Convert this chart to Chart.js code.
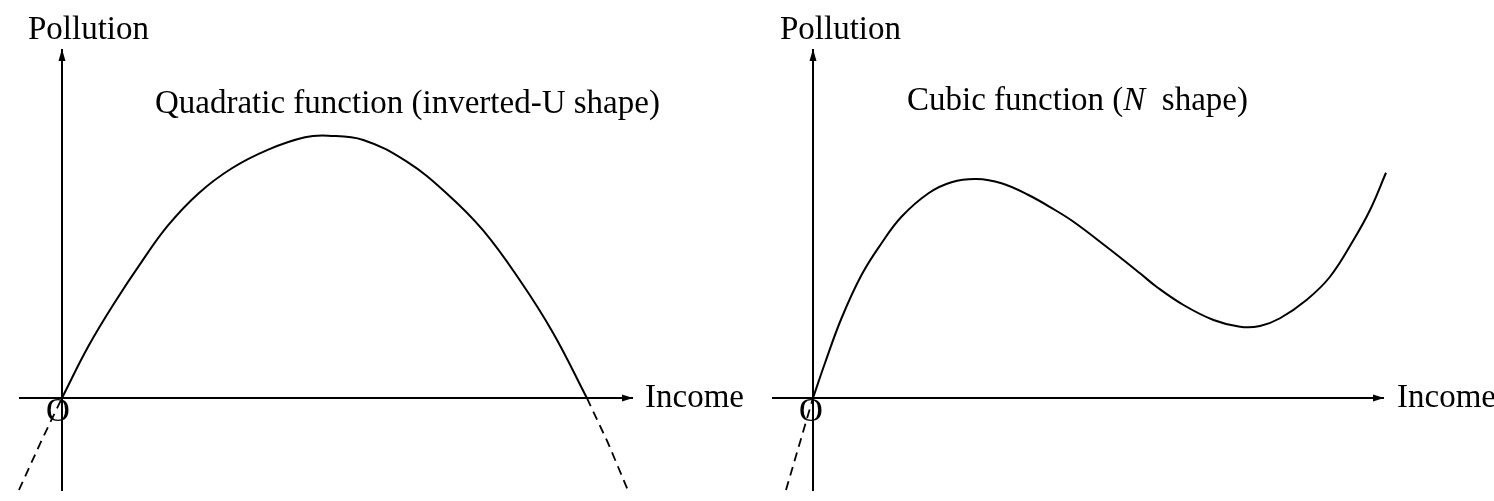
<!DOCTYPE html>
<html>
<head>
<meta charset="utf-8">
<script src="https://cdn.jsdelivr.net/npm/chart.js@4.4.1/dist/chart.umd.min.js"></script>
<style>
  html, body { margin: 0; padding: 0; background: #fff; }
  #wrap { position: relative; width: 1494px; height: 501px; overflow: hidden; }
  canvas { position: absolute; top: 0; }
  #left { left: 0; }
  #right { left: 760px; }
</style>
</head>
<body>
<div id="wrap">
  <canvas id="left" width="760" height="501"></canvas>
  <canvas id="right" width="734" height="501"></canvas>
</div>
<script>
// quadratic panel (inverted-U)
const quadIncome    = [0, 0.50, 1.01, 1.52, 2.02, 2.60, 3.23, 3.93, 4.63, 5.07, 5.74, 6.57, 7.33, 8.02, 8.72, 9.36, 10];
const quadPollution = [0, 1.96, 3.66, 5.20, 6.58, 7.80, 8.75, 9.47, 9.94, 10.0, 9.84, 9.01, 7.80, 6.40, 4.50, 2.47, 0];
const quadDashLeftX  = [-0.82, -0.41, 0];
const quadDashLeftY  = [-3.51, -1.71, 0];
const quadDashRightX = [10, 10.4, 10.78];
const quadDashRightY = [0, -1.7, -3.51];

// cubic panel (N shape)
const cubIncome    = [0, 0.24, 0.57, 0.97, 1.37, 1.77, 2.31, 2.77, 3.27, 3.77, 4.31, 4.84, 5.21, 5.87, 6.54, 6.87, 7.41, 8.01, 8.54, 8.94, 9.34, 9.87, 10.34, 10.81, 11.14, 11.46];
const cubPollution = [0, 1.40, 3.19, 4.92, 6.19, 7.25, 8.19, 8.63, 8.76, 8.59, 8.12, 7.52, 7.05, 6.05, 4.99, 4.45, 3.72, 3.12, 2.85, 2.88, 3.19, 3.92, 4.85, 6.32, 7.52, 9.01];
const cubDashX = [-0.54, -0.27, 0];
const cubDashY = [-3.68, -1.84, 0];

const FONT = '"Liberation Serif", "Times New Roman", serif';
const SIZE = '33px ';

function pts(xs, ys) {
  return xs.map((v, i) => ({ x: v, y: ys[i] }));
}

const decor = {
  id: 'decor',
  afterDraw(chart, args, opts) {
    const { ctx, chartArea, scales: { x, y } } = chart;
    const x0 = x.getPixelForValue(0);
    const y0 = y.getPixelForValue(0);
    ctx.save();
    ctx.fillStyle = '#000';
    // arrow heads
    ctx.beginPath();
    ctx.moveTo(chartArea.right + 1, y0);
    ctx.lineTo(chartArea.right - 10, y0 - 3.5);
    ctx.lineTo(chartArea.right - 10, y0 + 3.5);
    ctx.closePath();
    ctx.fill();
    ctx.beginPath();
    ctx.moveTo(x0, chartArea.top - 1);
    ctx.lineTo(x0 - 3.5, chartArea.top + 11);
    ctx.lineTo(x0 + 3.5, chartArea.top + 11);
    ctx.closePath();
    ctx.fill();

    ctx.font = SIZE + FONT;
    ctx.textBaseline = 'alphabetic';
    ctx.textAlign = 'left';
    ctx.fillText(opts.yLabel, x0 + opts.yLabelDx, chartArea.top - 11);
    ctx.fillText(opts.xLabel, chartArea.right + opts.xLabelDx, y0 + 9);
    ctx.textAlign = 'center';
    ctx.fillText('O', x0 + opts.originDx, y0 + 23);

    ctx.textAlign = 'left';
    let tx = x0 + opts.titleDx;
    const ty = y0 + opts.titleDy;
    for (const part of opts.title) {
      ctx.font = (part.italic ? 'italic ' : '') + SIZE + FONT;
      ctx.fillText(part.text, tx, ty);
      tx += ctx.measureText(part.text).width;
    }
    ctx.restore();
  }
};

function makeChart(id, datasets, xr, yr, padding, decorOpts) {
  const axis = {
    type: 'linear',
    grid: { display: false, drawTicks: false },
    ticks: { display: false },
    border: { display: true, color: '#000', width: 2 }
  };
  return new Chart(document.getElementById(id), {
    type: 'scatter',
    data: { datasets },
    options: {
      responsive: false,
      animation: false,
      layout: { padding },
      scales: {
        x: Object.assign({}, axis, { min: xr[0], max: xr[1], position: { y: 0 } }),
        y: Object.assign({}, axis, { min: yr[0], max: yr[1], position: { x: 0 } })
      },
      plugins: {
        legend: { display: false },
        tooltip: { enabled: false },
        decor: decorOpts
      }
    },
    plugins: [decor]
  });
}

const solid = { showLine: true, pointRadius: 0, borderColor: '#000', borderWidth: 2, tension: 0.4, clip: false };
const dashed = { showLine: true, pointRadius: 0, borderColor: '#000', borderWidth: 1.8, borderDash: [9, 6], tension: 0, clip: false };

makeChart('left', [
  Object.assign({ data: pts(quadIncome, quadPollution) }, solid),
  Object.assign({ data: pts(quadDashLeftX, quadDashLeftY) }, dashed),
  Object.assign({ data: pts(quadDashRightX, quadDashRightY) }, dashed)
], [-0.8, 10.86], [-3.51, 13.27], { left: 20, right: 128, top: 50, bottom: 11 }, {
  yLabel: 'Pollution', yLabelDx: -34,
  xLabel: 'Income', xLabelDx: 13,
  originDx: -4,
  titleDx: 93, titleDy: -285,
  title: [{ text: 'Quadratic function (inverted-U shape)' }]
});

makeChart('right', [
  Object.assign({ data: pts(cubIncome, cubPollution) }, solid),
  Object.assign({ data: pts(cubDashX, cubDashY) }, dashed)
], [-0.8, 11.4], [-3.68, 13.92], { left: 13, right: 111, top: 50, bottom: 11 }, {
  yLabel: 'Pollution', yLabelDx: -33,
  xLabel: 'Income', xLabelDx: 14,
  originDx: -2,
  titleDx: 94, titleDy: -288,
  title: [{ text: 'Cubic function (' }, { text: 'N', italic: true }, { text: '  shape)' }]
});
</script>
</body>
</html>
